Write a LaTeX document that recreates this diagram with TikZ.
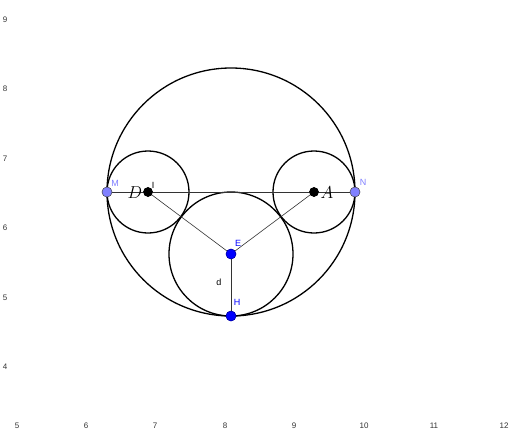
\documentclass[tikz,border=0pt]{standalone}
\usepackage{fontspec}
\setsansfont{Liberation Sans}
\begin{document}
\begin{tikzpicture}[x=1pt,y=-1pt,
  circ/.style={draw=black,line width=1.3pt},
  seg/.style={draw=black!80,line width=0.6pt},
  ptlight/.style={circle,fill=blue!50!white,draw=black!70,line width=0.4pt,inner sep=0pt,minimum size=10pt},
  ptblack/.style={circle,fill=black,draw=black,inner sep=0pt,minimum size=9pt},
  ptblue/.style={circle,fill=blue,draw=blue!60!black,line width=0.4pt,inner sep=0pt,minimum size=10pt},
  axlab/.style={font=\sffamily\fontsize{8}{9}\selectfont,text=black!80,inner sep=0pt},
  lbl/.style={font=\sffamily\fontsize{9}{10}\selectfont,inner sep=0pt}]
\useasboundingbox (0,0) rectangle (512,434);
\fill[white] (0,0) rectangle (512,434);
% axis labels
\foreach \v/\y in {9/20,8/89,7/159,6/228,5/298,4/367}
  \node[axlab] (ay\v) at (5,\y) {\v};
\foreach \v/\x in {5/17,6/86,7/155,8/225,9/294,10/364,11/434,12/504}
  \node[axlab] (ax\v) at (\x,426) {\v};
% coordinates
\coordinate (O) at (231,192);
\coordinate (cI) at (148,192);
\coordinate (cA) at (314,192);
\coordinate (cE) at (231,254);
\coordinate (cH) at (231,316);
\coordinate (cM) at (107,192);
\coordinate (cN) at (355,192);
% circles
\draw[circ] (O) circle[radius=124];
\draw[circ] (cI) circle[radius=41];
\draw[circ] (cA) circle[radius=41];
\draw[circ] (cE) circle[radius=62];
% points
\node[ptlight] (M) at (cM) {};
\node[ptlight] (N) at (cN) {};
\node[ptblack] (I) at (cI) {};
\node[ptblack] (A) at (cA) {};
\node[ptblue] (E) at (cE) {};
\node[ptblue] (H) at (cH) {};
% segments
\draw[seg] (M) -- (I) -- (A) -- (N);
\draw[seg] (I) -- (E);
\draw[seg] (A) -- (E);
\draw[seg] (E) -- (H);
% redraw points on top
\node[ptlight] at (cM) {};
\node[ptlight] at (cN) {};
\node[ptblack] at (cI) {};
\node[ptblack] at (cA) {};
\node[ptblue] at (cE) {};
\node[ptblue] at (cH) {};
% labels
\node[lbl,text=blue!50!white] (lM) at (115,183) {M};
\node[lbl,text=blue!50!white] (lN) at (363,182) {N};
\node[lbl] (lI) at (153,185) {I};
\node[lbl,text=blue] (lE) at (238,243) {E};
\node[lbl,text=blue] (lH) at (237,302) {H};
\node[lbl] (ld) at (219,282) {d};
\node[inner sep=0pt,font=\fontsize{16}{17}\selectfont] (lD) at (135,193) {$D$};
\node[inner sep=0pt,font=\fontsize{16}{17}\selectfont] (lA) at (327,193) {$A$};
\end{tikzpicture}
\end{document}
